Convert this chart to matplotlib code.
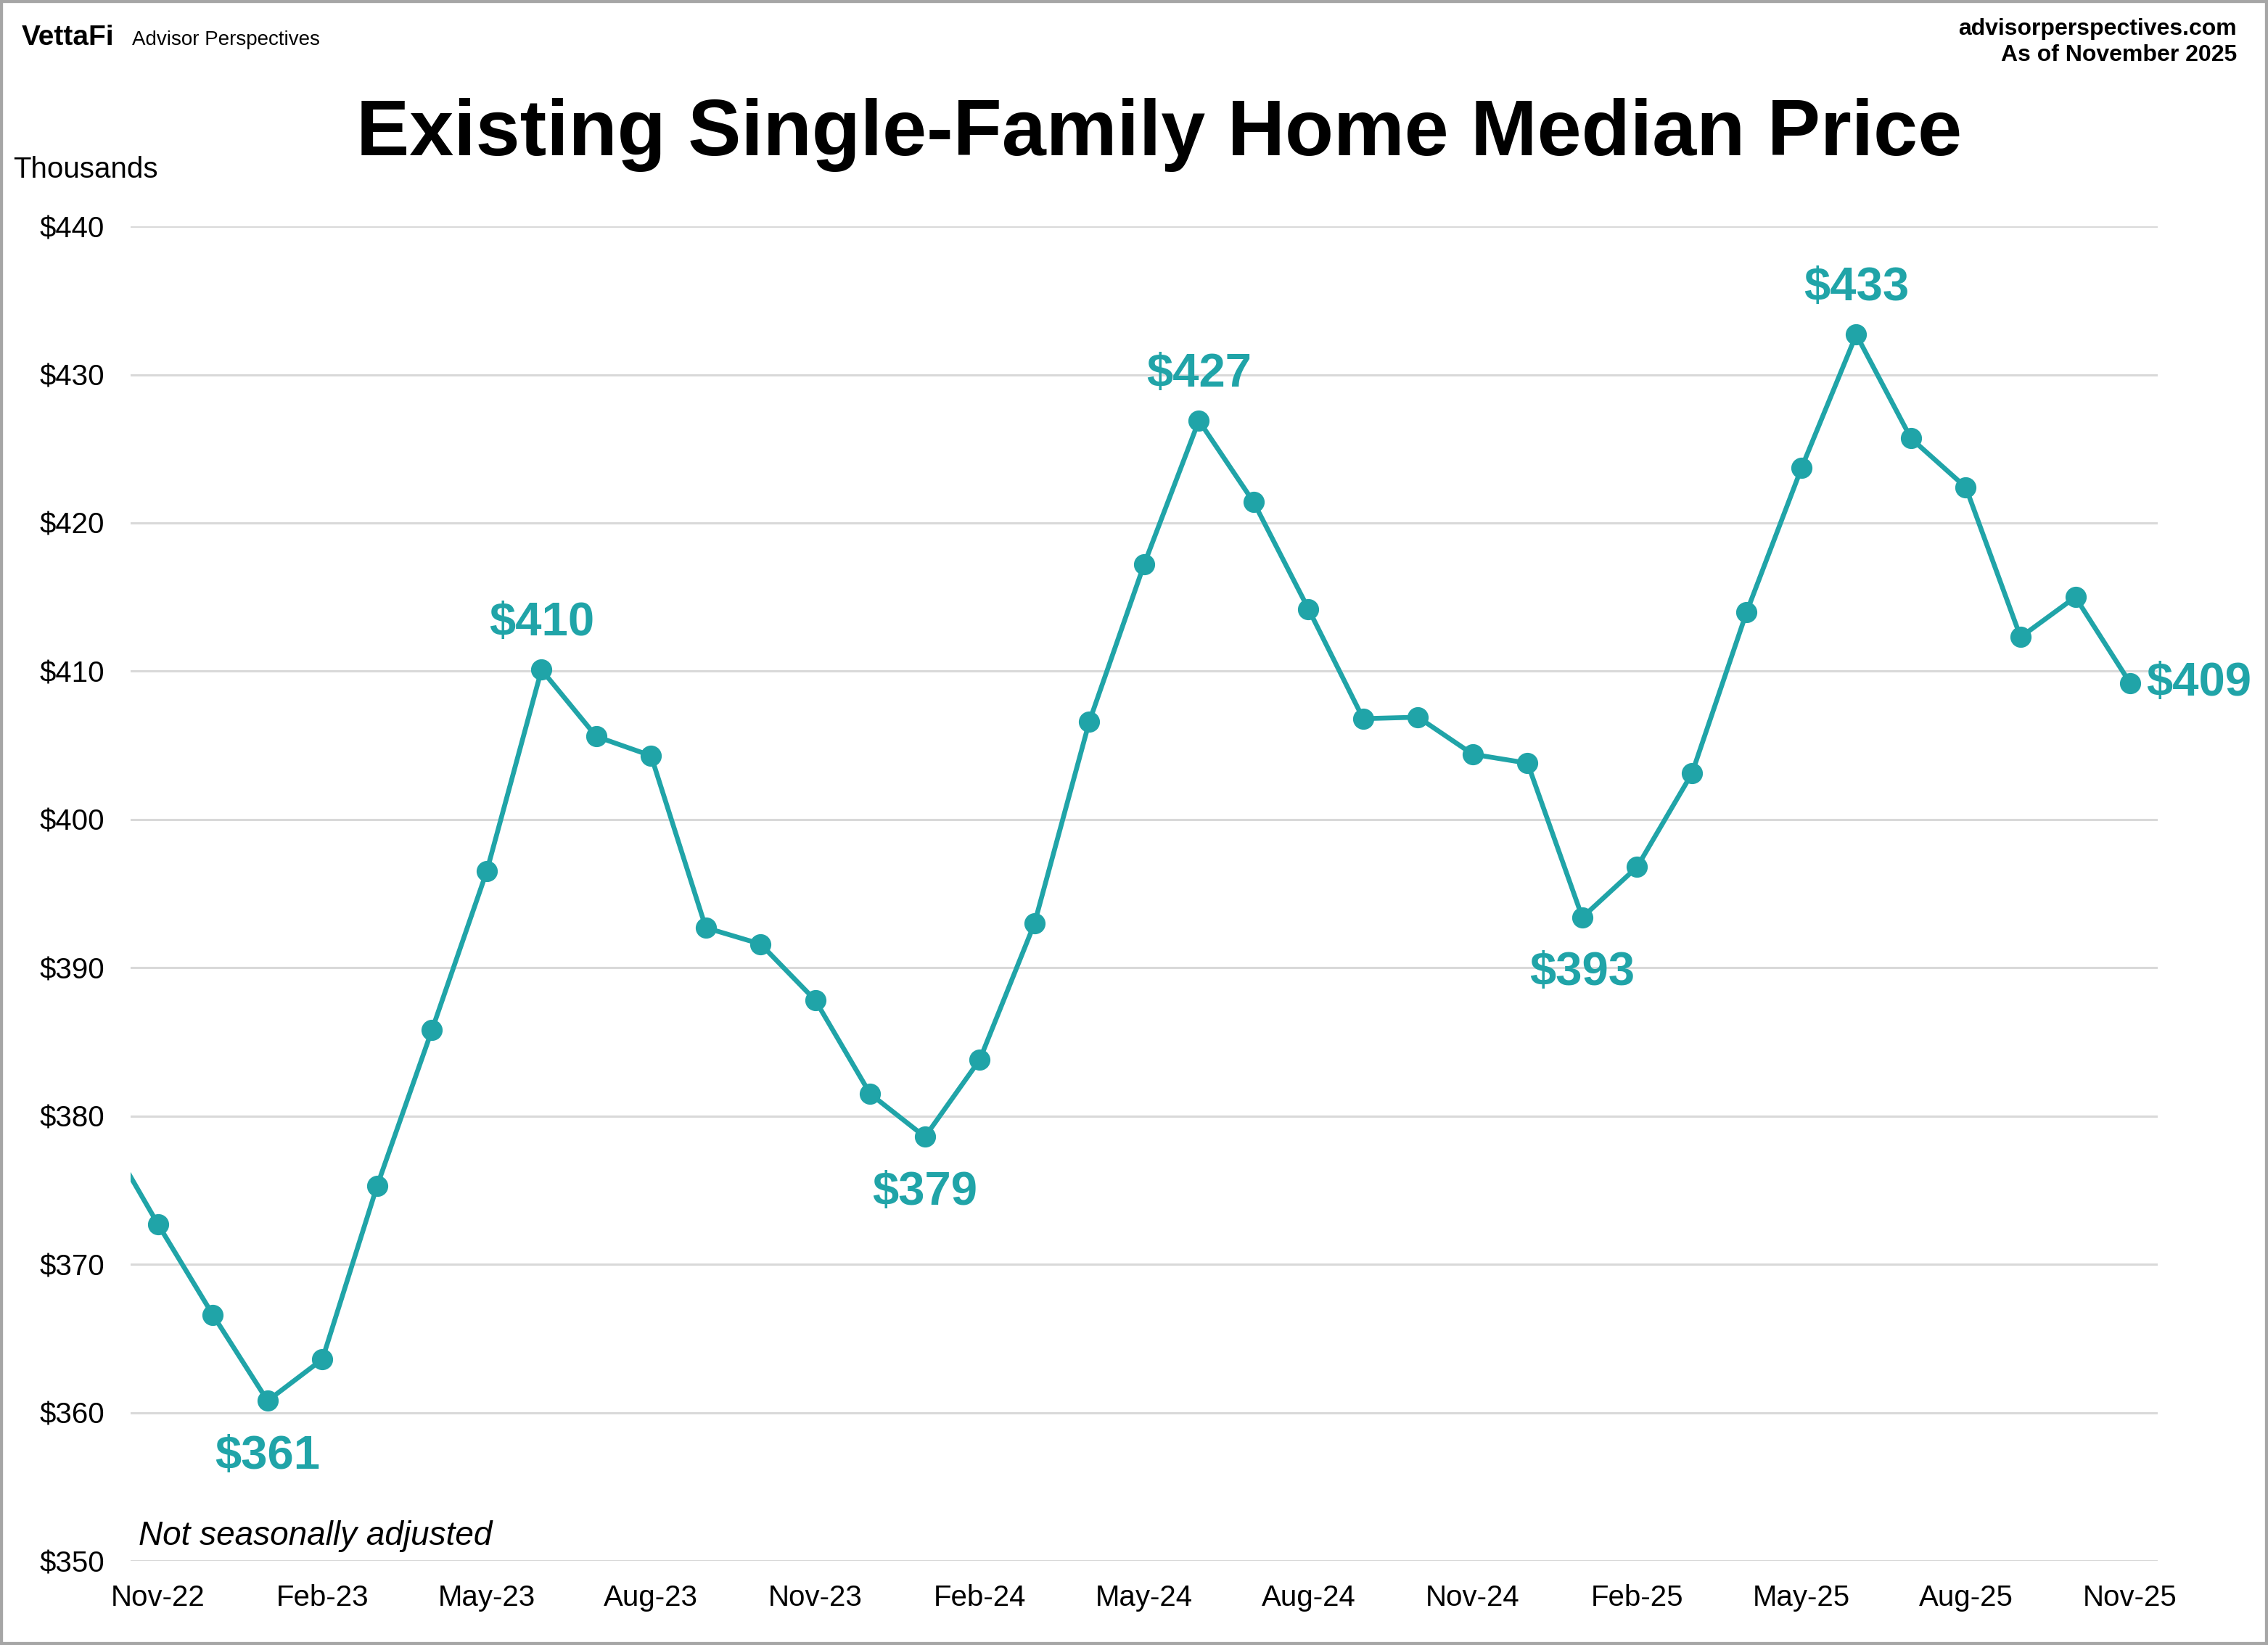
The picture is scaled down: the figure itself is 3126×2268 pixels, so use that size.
import matplotlib as mpl
mpl.use('Agg')
import matplotlib.pyplot as plt
from matplotlib.patches import Rectangle

# monthly medians in thousands, Oct-22 .. Nov-25 (Oct-22 sits just off the left edge)
months = ['Oct-22', 'Nov-22', 'Dec-22', 'Jan-23', 'Feb-23', 'Mar-23', 'Apr-23', 'May-23',
          'Jun-23', 'Jul-23', 'Aug-23', 'Sep-23', 'Oct-23', 'Nov-23', 'Dec-23', 'Jan-24',
          'Feb-24', 'Mar-24', 'Apr-24', 'May-24', 'Jun-24', 'Jul-24', 'Aug-24', 'Sep-24',
          'Oct-24', 'Nov-24', 'Dec-24', 'Jan-25', 'Feb-25', 'Mar-25', 'Apr-25', 'May-25',
          'Jun-25', 'Jul-25', 'Aug-25', 'Sep-25', 'Oct-25', 'Nov-25']
prices = [379.1, 372.7, 366.6, 360.8, 363.6, 375.3, 385.8, 396.5,
          410.1, 405.6, 404.3, 392.7, 391.6, 387.8, 381.5, 378.6,
          383.8, 393.0, 406.6, 417.2, 426.9, 421.4, 414.2, 406.8,
          406.9, 404.4, 403.8, 393.4, 396.8, 403.1, 414.0, 423.7,
          432.7, 425.7, 422.4, 412.3, 415.0, 409.2]

# which months get a value label, and where it goes
label_months = ['Jan-23', 'Jun-23', 'Jan-24', 'Jun-24', 'Jan-25', 'Jun-25', 'Nov-25']
label_side = ['below', 'above', 'below', 'above', 'below', 'above', 'right']

tick_months = ['Nov-22', 'Feb-23', 'May-23', 'Aug-23', 'Nov-23', 'Feb-24', 'May-24',
               'Aug-24', 'Nov-24', 'Feb-25', 'May-25', 'Aug-25', 'Nov-25']
y_ticks = [350, 360, 370, 380, 390, 400, 410, 420, 430, 440]

teal = '#20A4A8'
plt.rcParams['font.family'] = ['Liberation Sans', 'DejaVu Sans']

fig = plt.figure(figsize=(31.26, 22.68), dpi=100)
ax = fig.add_axes([0.0576, 0.0511, 0.8937, 0.8113])

x = [i - 1 for i in range(len(months))]  # Nov-22 -> 0
ax.plot(x, prices, color=teal, lw=4.8, marker='o', markersize=20, zorder=3)

for m, side in zip(label_months, label_side):
    i = months.index(m)
    v = prices[i]
    txt = '$%d' % round(v)
    if side == 'above':
        off, ha, va = (0, 46), 'center', 'center'
    elif side == 'below':
        off, ha, va = (0, -55), 'center', 'center'
    else:
        off, ha, va = (16, 0), 'left', 'center'
    ax.annotate(txt, (x[i], v), xytext=off, textcoords='offset points',
                ha=ha, va=va, color=teal, fontsize=47, fontweight='bold')

ax.set_xlim(-0.5, 36.5)
ax.set_ylim(350, 440)
ax.set_xticks([months.index(m) - 1 for m in tick_months])
ax.set_xticklabels(tick_months)
ax.set_yticks(y_ticks)
ax.set_yticklabels(['$%d' % t for t in y_ticks])
ax.tick_params(length=0, labelsize=29, colors='black')
ax.tick_params(axis='x', pad=23)
ax.tick_params(axis='y', pad=26)
ax.grid(axis='y', color='#D9D9D9', lw=2.2)
ax.set_axisbelow(True)
for s in ax.spines.values():
    s.set_visible(False)

fig.text(0.511, 0.9056, 'Existing Single-Family Home Median Price', ha='center',
         va='baseline', fontsize=79, fontweight='bold')
fig.text(0.0058, 0.897, 'Thousands', ha='left', va='center', fontsize=29)
fig.text(0.061, 0.066, 'Not seasonally adjusted', ha='left', va='center',
         fontsize=33, style='italic')

fig.text(0.0096, 0.9727, 'VettaFi', ha='left', va='baseline', fontsize=28,
         fontweight='bold')
fig.text(0.0582, 0.9727, 'Advisor Perspectives', ha='left', va='baseline', fontsize=20)
fig.text(0.9862, 0.979, 'advisorperspectives.com', ha='right', va='baseline',
         fontsize=23, fontweight='bold')
fig.text(0.9862, 0.963, 'As of November 2025', ha='right', va='baseline',
         fontsize=23, fontweight='bold')

fig.patches.append(Rectangle((0, 0), 1, 1, transform=fig.transFigure, fill=False,
                             edgecolor='#A6A6A6', lw=6))

plt.savefig('out.png', dpi=100, facecolor='white')
